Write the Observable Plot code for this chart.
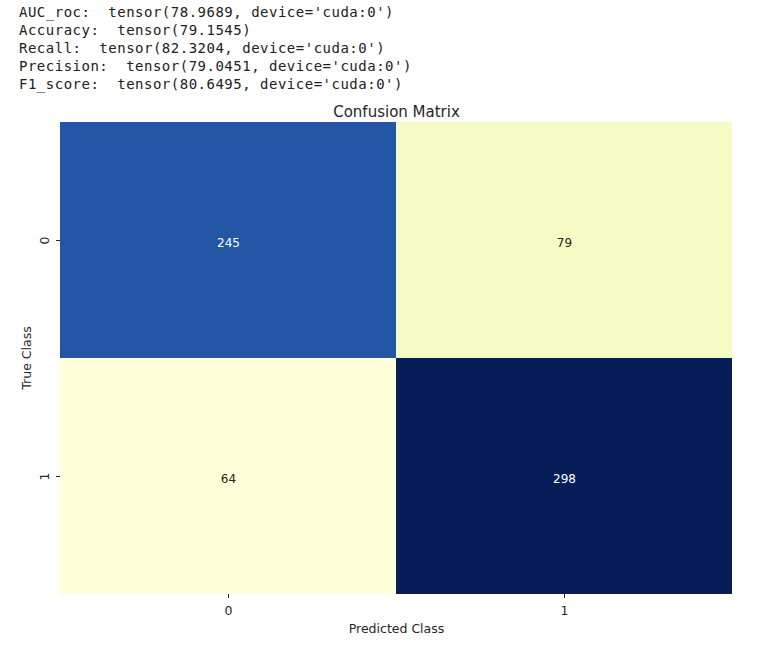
<!DOCTYPE html>
<html><head><meta charset="utf-8">
<script src="https://cdn.jsdelivr.net/npm/d3@7"></script>
<script src="https://cdn.jsdelivr.net/npm/@observablehq/plot@0.6"></script>
<style>
body{margin:0;background:#fff;width:775px;height:647px;position:relative;overflow:hidden}
#log{position:absolute;left:19px;top:3px;margin:0;font-family:"DejaVu Sans Mono",monospace;font-size:14px;letter-spacing:0.5px;line-height:18px;color:#212121}
#chart{position:absolute;left:0;top:100px}
</style></head><body>
<pre id="log"></pre>
<div id="chart"></div>
<script>
// printed metrics
const metricNames = ["AUC_roc:", "Accuracy:", "Recall:", "Precision:", "F1_score:"];
const metricValues = ["78.9689", "79.1545", "82.3204", "79.0451", "80.6495"];
const metricOnDevice = [true, false, true, true, true];

// confusion matrix
const tickLabels = ["0", "1"];
const trueClass = ["0", "0", "1", "1"];
const predClass = ["0", "1", "0", "1"];
const counts = [245, 79, 64, 298];

const YlGnBu = ["#ffffd9","#edf8b1","#c7e9b4","#7fcdbb","#41b6c4","#1d91c0","#225ea8","#253494","#081d58"];

document.getElementById("log").textContent = metricNames.map((n, i) =>
  `${n}  tensor(${metricValues[i]}${metricOnDevice[i] ? ", device='cuda:0'" : ""})`).join("\n");

const data = counts.map((c, i) => ({t: trueClass[i], p: predClass[i], c}));
const mid = (d3.min(counts) + d3.max(counts)) / 2;

const chart = Plot.plot({
  width: 775, height: 547,
  marginTop: 21, marginLeft: 60, marginRight: 43, marginBottom: 53,
  style: {fontFamily: "DejaVu Sans", fontSize: "12px", color: "#262626", background: "white"},
  x: {domain: tickLabels, padding: 0, label: null},
  y: {domain: tickLabels, padding: 0, label: null},
  color: {type: "linear", domain: [d3.min(counts), d3.max(counts)], interpolate: d3.piecewise(d3.interpolateRgb, YlGnBu)},
  marks: [
    Plot.cell(data, {x: "p", y: "t", fill: "c", inset: 0}),
    Plot.text(data.filter(d => d.c > mid), {x: "p", y: "t", text: "c", dy: 3, fill: "white", fontSize: 12}),
    Plot.text(data.filter(d => d.c <= mid), {x: "p", y: "t", text: "c", dy: 3, fill: "#262626", fontSize: 12}),
    Plot.axisX({tickSize: 4, tickPadding: 8, fontSize: 12.5, label: "Predicted Class", labelAnchor: "center", labelOffset: 38}),
    Plot.axisY({tickSize: 4, tickRotate: -90, tickPadding: 8, fontSize: 12.5, label: "True Class", labelAnchor: "center", labelOffset: 38}),
    Plot.text(["Confusion Matrix"], {frameAnchor: "top", dy: -15, fontSize: 15, fill: "#262626"})
  ]
});
document.getElementById("chart").appendChild(chart);
</script>
</body></html>
